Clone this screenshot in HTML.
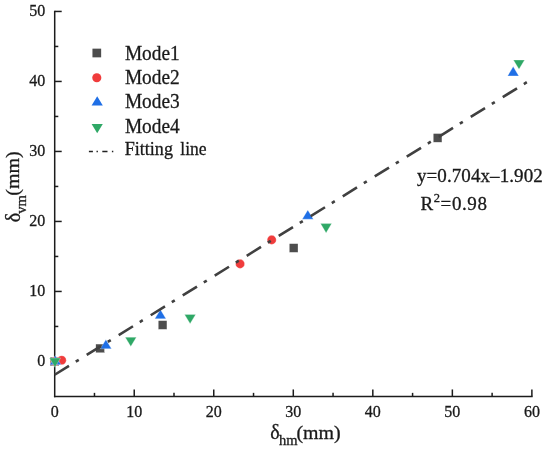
<!DOCTYPE html><html><head><meta charset="utf-8"><title>Fitting chart</title>
<style>html,body{margin:0;padding:0;background:#fff}body{width:550px;height:451px;overflow:hidden}svg{display:block}text{font-family:"Liberation Serif",serif;fill:#1a1a1a;stroke:#1a1a1a;stroke-width:0.3px}</style></head><body>
<svg width="550" height="451" viewBox="0 0 550 451">
<rect width="550" height="451" fill="#fff"/>
<g stroke="#1c1c1c" stroke-width="1.5" fill="none" stroke-linecap="butt">
<path d="M54.70 10.70V397.20"/>
<path d="M53.95 396.45H532.63"/>
<path d="M94.47 396.45v-3.6"/>
<path d="M134.23 396.45v-7"/>
<path d="M174.00 396.45v-3.6"/>
<path d="M213.76 396.45v-7"/>
<path d="M253.53 396.45v-3.6"/>
<path d="M293.29 396.45v-7"/>
<path d="M333.06 396.45v-3.6"/>
<path d="M372.82 396.45v-7"/>
<path d="M412.58 396.45v-3.6"/>
<path d="M452.35 396.45v-7"/>
<path d="M492.12 396.45v-3.6"/>
<path d="M531.88 396.45v-7"/>
<path d="M54.70 361.45h7"/>
<path d="M54.70 326.45h3.6"/>
<path d="M54.70 291.45h7"/>
<path d="M54.70 256.45h3.6"/>
<path d="M54.70 221.45h7"/>
<path d="M54.70 186.45h3.6"/>
<path d="M54.70 151.45h7"/>
<path d="M54.70 116.45h3.6"/>
<path d="M54.70 81.45h7"/>
<path d="M54.70 46.45h3.6"/>
<path d="M54.70 11.45h7"/>
</g>
<g font-size="16">
<text x="54.70" y="416.7" text-anchor="middle">0</text>
<text x="134.23" y="416.7" text-anchor="middle">10</text>
<text x="213.76" y="416.7" text-anchor="middle">20</text>
<text x="293.29" y="416.7" text-anchor="middle">30</text>
<text x="372.82" y="416.7" text-anchor="middle">40</text>
<text x="452.35" y="416.7" text-anchor="middle">50</text>
<text x="531.88" y="416.7" text-anchor="middle">60</text>
<text x="45.2" y="366.25" text-anchor="end">0</text>
<text x="45.2" y="296.25" text-anchor="end">10</text>
<text x="45.2" y="226.25" text-anchor="end">20</text>
<text x="45.2" y="156.25" text-anchor="end">30</text>
<text x="45.2" y="86.25" text-anchor="end">40</text>
<text x="45.2" y="16.25" text-anchor="end">50</text>
</g>
<g transform="translate(270.2 438.6)"><text x="0.1" y="0.5" font-size="20">δ</text><text x="8.7" y="6.6" font-size="14.5" textLength="18.6" lengthAdjust="spacingAndGlyphs">hm</text><text x="26.2" y="0" font-size="19.5" textLength="44.2" lengthAdjust="spacingAndGlyphs">(mm)</text></g>
<g transform="translate(19.2 222.4) rotate(-90)"><text x="0.1" y="0.5" font-size="20">δ</text><text x="8.7" y="6.6" font-size="14.5" textLength="18.6" lengthAdjust="spacingAndGlyphs">vm</text><text x="26.6" y="0" font-size="19.5" textLength="44.6" lengthAdjust="spacingAndGlyphs">(mm)</text></g>
<g stroke="#fff" stroke-width="0.3">
<rect x="50.05" y="357.10" width="8.7" height="8.7" fill="#4d4d4d"/>
<rect x="95.80" y="344.05" width="8.7" height="8.7" fill="#4d4d4d"/>
<rect x="158.25" y="320.65" width="8.7" height="8.7" fill="#4d4d4d"/>
<rect x="289.30" y="243.65" width="8.7" height="8.7" fill="#4d4d4d"/>
<rect x="433.25" y="133.55" width="8.7" height="8.7" fill="#4d4d4d"/>
<circle cx="55.00" cy="361.45" r="4.55" fill="#f03c3c"/>
<circle cx="61.70" cy="360.20" r="4.55" fill="#f03c3c"/>
<circle cx="240.10" cy="263.90" r="4.55" fill="#f03c3c"/>
<circle cx="271.70" cy="239.90" r="4.55" fill="#f03c3c"/>
<path d="M55.40 355.40L61.00 364.70H49.80Z" fill="#1f6fe6"/>
<path d="M105.90 339.50L111.50 348.80H100.30Z" fill="#1f6fe6"/>
<path d="M160.40 309.50L166.00 318.80H154.80Z" fill="#1f6fe6"/>
<path d="M307.80 209.90L313.40 219.20H302.20Z" fill="#1f6fe6"/>
<path d="M513.20 66.60L518.80 75.90H507.60Z" fill="#1f6fe6"/>
<path d="M55.00 367.30L60.60 358.00H49.40Z" fill="#2fa866"/>
<path d="M130.80 346.50L136.40 337.20H125.20Z" fill="#2fa866"/>
<path d="M190.10 323.70L195.70 314.40H184.50Z" fill="#2fa866"/>
<path d="M326.10 232.90L331.70 223.60H320.50Z" fill="#2fa866"/>
<path d="M519.00 69.30L524.60 60.00H513.40Z" fill="#2fa866"/>
</g>
<path d="M54.70 374.76L531.88 79.08" stroke="#404040" stroke-width="2.6" fill="none" stroke-dasharray="16.8 8 3.5 9.35"/>
<rect x="92.45" y="48.65" width="8.7" height="8.7" fill="#4d4d4d"/>
<circle cx="96.80" cy="77.80" r="4.55" fill="#f03c3c"/>
<path d="M97.20 96.30L102.80 105.60H91.60Z" fill="#1f6fe6"/>
<path d="M97.20 133.30L102.80 124.00H91.60Z" fill="#2fa866"/>
<path d="M88.9 151.5H114" stroke="#222" stroke-width="1.4" fill="none" stroke-dasharray="4 3.6 1.4 4.4 5.2 4.4 1.4 9"/>
<g font-size="20.5">
<text x="124.9" y="59.50" textLength="54.8" lengthAdjust="spacingAndGlyphs">Mode1</text>
<text x="124.9" y="83.95" textLength="54.8" lengthAdjust="spacingAndGlyphs">Mode2</text>
<text x="124.9" y="108.40" textLength="54.8" lengthAdjust="spacingAndGlyphs">Mode3</text>
<text x="124.9" y="132.85" textLength="54.8" lengthAdjust="spacingAndGlyphs">Mode4</text>
</g>
<text x="124.7" y="155.1" font-size="18.8" textLength="48.3" lengthAdjust="spacingAndGlyphs">Fitting</text><text x="180.3" y="155.1" font-size="18.8" textLength="26.3" lengthAdjust="spacingAndGlyphs">line</text>
<text x="416.9" y="182.3" font-size="19" textLength="125.9" lengthAdjust="spacing">y=0.704x–1.902</text>
<text x="420.5" y="209.5" font-size="19" textLength="66.4" lengthAdjust="spacing">R<tspan font-size="12.5" dy="-7.5">2</tspan><tspan dy="7.5">=0.98</tspan></text>
</svg></body></html>
